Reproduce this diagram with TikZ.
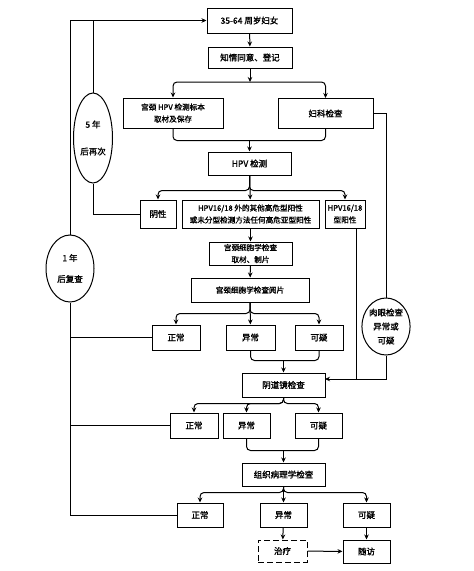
\documentclass[tikz,border=0pt]{standalone}
\usepackage{fontspec}
\newfontfamily\cjk[AutoFakeBold=1.5]{Noto Sans CJK SC}
\usetikzlibrary{arrows.meta,shapes.geometric}

\begin{document}
\begin{tikzpicture}[x=1pt,y=-1pt,line width=1pt,
  box/.style={draw,inner sep=0pt,align=center,font=\cjk\bfseries\fontsize{8.5}{12}\selectfont},
  small/.style={font=\cjk\bfseries\fontsize{7.6}{12}\selectfont},
  oval/.style={draw,ellipse,inner sep=0pt,align=center,font=\cjk\bfseries\fontsize{8.5}{14}\selectfont},
  arr/.style={-{Stealth[length=5pt,width=4.5pt]}},
  rc/.style={rounded corners=4pt}]
  \useasboundingbox (0,0) rectangle (474,571);

  % main column
  \node[box,minimum width=85,minimum height=25] (women) at (249.5,20.5) {35-64 周岁妇女};
  \node[box,minimum width=84,minimum height=21] (consent) at (250,57.5) {知情同意、登记};
  \node[box,small,minimum width=100,minimum height=30] (sample) at (173,113) {宫颈 HPV 检测标本\\取材及保存};
  \node[box,minimum width=95,minimum height=30] (gyn) at (325.5,113.5) {妇科检查};
  \node[box,minimum width=83,minimum height=23] (hpv) at (249.5,163.5) {HPV 检测};
  \node[box,minimum width=36,minimum height=28] (neg) at (158,214) {阴性};
  \node[box,small,minimum width=137,minimum height=28] (other) at (250.5,214) {HPV16/18 外的其他高危型阳性\\或未分型检测方法任何高危亚型阳性};
  \node[box,small,minimum width=40,minimum height=28] (hpvpos) at (345,214) {HPV16/18\\型阳性};
  \node[box,small,minimum width=83,minimum height=23] (cyto) at (250.5,253.5) {宫颈细胞学检查\\取材、制片};
  \node[box,small,minimum width=118,minimum height=24] (read) at (250,290) {宫颈细胞学检查阅片};
  \node[box,minimum width=48,minimum height=25] (normA) at (176,337.5) {正常};
  \node[box,minimum width=49,minimum height=25] (abnA) at (250.5,337.5) {异常};
  \node[box,minimum width=48,minimum height=25] (suspA) at (319,337.5) {可疑};
  \node[box,minimum width=83,minimum height=24] (colpo) at (283.5,385) {阴道镜检查};
  \node[box,minimum width=48,minimum height=25] (normB) at (194,425.5) {正常};
  \node[box,minimum width=47,minimum height=25] (abnB) at (246.5,425.5) {异常};
  \node[box,minimum width=47,minimum height=25] (suspB) at (318.5,425.5) {可疑};
  \node[box,minimum width=83,minimum height=23] (patho) at (283.5,474.5) {组织病理学检查};
  \node[box,minimum width=46,minimum height=24] (normC) at (200,515) {正常};
  \node[box,minimum width=47,minimum height=24] (abnC) at (283.5,515) {异常};
  \node[box,minimum width=47,minimum height=24] (suspC) at (366.5,515) {可疑};
  \node[box,dash pattern=on 6pt off 3pt,minimum width=49,minimum height=22] (treat) at (282.5,551) {治疗};
  \node[box,minimum width=47,minimum height=23] (follow) at (366.5,551.5) {随访};

  % ovals
  \node[oval,font=\cjk\bfseries\fontsize{8.5}{27}\selectfont,minimum width=39,minimum height=90] (fiveyr) at (93,138) {5 年\\后再次};
  \node[oval,font=\cjk\bfseries\fontsize{8.5}{21}\selectfont,minimum width=48,minimum height=67] (oneyr) at (70,268.5) {1 年\\后复查};
  \node[oval,minimum width=47,minimum height=57] (eye) at (386,326.5) {肉眼检查\\异常或\\可疑};

  % junctions
  \coordinate (splitA) at (250,82);
  \coordinate (colpoin) at (325,379);

  % top part
  \draw[arr] (women) -- (consent);
  \draw[arr] (consent) -- (splitA);
  \draw[arr,rc] (splitA) -| (sample.north);
  \draw[arr,rc] (splitA) -| (gyn.north);
  \draw[rc] (sample.south) -- ++(0,12) -| (gyn.south);
  \draw[arr] (hpv.north |- 0,140) -- (hpv.north);

  % hpv result
  \draw[arr] (hpv) -- (other);
  \draw[arr,rc] (hpv.south) -- ++(0,15) -| (neg.north);
  \draw[arr,rc] (hpv.south) -- ++(0,15) -| (hpvpos.north);
  \draw[arr] (other) -- (cyto);
  \draw[arr] (cyto) -- (read);

  % cytology result
  \draw[arr] (read) -- (abnA);
  \draw[arr,rc] (read.south) -- ++(0,11) -| (normA.north);
  \draw[arr,rc] (read.south) -- ++(0,11) -| (suspA.north);
  \draw[rc] (abnA.south) -- ++(0,10) -| (suspA.south);
  \draw[arr] (colpo.north |- 0,360) -- (colpo.north);

  % right side
  \draw (gyn.east) -| (eye.north);
  \draw[arr] (eye.south) |- (colpoin);
  \draw ([xshift=11pt]hpvpos.south) -- ([xshift=11pt]hpvpos.south |- colpoin);

  % colposcopy result
  \draw[arr,rc] (colpo.south) -- ++(0,6) -| (normB.north);
  \draw[arr,rc] (colpo.south) -- ++(0,6) -| (abnB.north);
  \draw[arr,rc] (colpo.south) -- ++(0,6) -| (suspB.north);
  \draw[rc] (abnB.south) -- ++(0,12) -| (suspB.south);
  \draw[arr] (patho.north |- 0,450) -- (patho.north);

  % pathology result
  \draw[arr] (patho) -- (abnC);
  \draw[arr,rc] (patho.south) -- ++(0,6) -| (normC.north);
  \draw[arr,rc] (patho.south) -- ++(0,6) -| (suspC.north);
  \draw[arr] (abnC) -- (treat);
  \draw[arr] (suspC) -- (follow);
  \draw[arr] (treat) -- (follow);

  % left loops
  \draw (normC.west) -| (oneyr.south);
  \draw (normB.west) -- (normB.west -| oneyr.south);
  \draw (normA.west) -- (normA.west -| oneyr.south);
  \draw[arr] (oneyr.north) |- (women.west);
  \draw (neg.west) -| (fiveyr.south);
  \draw (fiveyr.north) -- (fiveyr.north |- women.west);
\end{tikzpicture}
\end{document}
